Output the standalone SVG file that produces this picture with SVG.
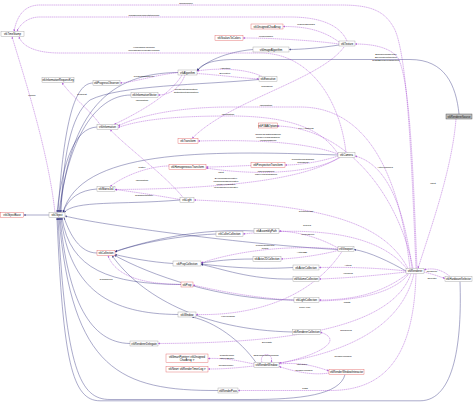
<svg xmlns="http://www.w3.org/2000/svg" width="474" height="402" viewBox="0 0 474 402">
<style>
.nd rect{fill:#fff;stroke:#9a9a9a;stroke-width:0.4}
.rd rect{fill:#fff;stroke:#e05a5a;stroke-width:0.4}
.gd rect{fill:#bfbfbf;stroke:#404040;stroke-width:0.4}
text{font-family:"Liberation Sans",Arial,sans-serif;font-size:2.7px;text-anchor:middle;fill:#000}
.u{fill:none;stroke:#9a32cd;stroke-width:0.5;stroke-dasharray:1.4 0.5;opacity:0.75}
.i{fill:none;stroke:#191970;stroke-width:0.5;opacity:0.72}
.l{font-size:2.5px}
</style>
<defs>
<marker id="au" viewBox="0 0 4 4" refX="4" refY="2" markerWidth="2.2" markerHeight="2.2" markerUnits="userSpaceOnUse" orient="auto"><path d="M0,0 L4,2 L0,4 z" fill="#9a32cd"/></marker>
<marker id="ai" viewBox="0 0 4 4" refX="4" refY="2" markerWidth="2.2" markerHeight="2.2" markerUnits="userSpaceOnUse" orient="auto"><path d="M0,0 L4,2 L0,4 z" fill="#191970"/></marker>
</defs>
<rect width="474" height="402" fill="#fff"/>
<g id="connectors">
<path class="i" marker-end="url(#ai)" d="M49,215 L23.5,215"/>
<path class="i" marker-end="url(#ai)" d="M93,83 C75,83 64,120 58,212.5"/>
<path class="i" marker-end="url(#ai)" d="M178,72.5 C110,73 70,110 60,212.5"/>
<path class="i" marker-end="url(#ai)" d="M131,95 C95,95 68,140 59,212.5"/>
<path class="i" marker-end="url(#ai)" d="M97,127 C75,128 63,160 57,212.5"/>
<path class="i" marker-end="url(#ai)" d="M259,79.5 C200,85 120,85 90,100 C70,115 63,160 61,212.5"/>
<path class="i" marker-end="url(#ai)" d="M338,155 C200,150 80,150 63,212.5"/>
<path class="i" marker-end="url(#ai)" d="M180,200 C120,205 75,200 64,212.5"/>
<path class="i" marker-end="url(#ai)" d="M97,189 C80,190 68,198 63,212.5"/>
<path class="i" marker-end="url(#ai)" d="M97,253 C80,253 70,235 64,217.5"/>
<path class="i" marker-end="url(#ai)" d="M181,284.5 C110,284 70,270 62,217.5"/>
<path class="i" marker-end="url(#ai)" d="M178,314.5 C110,314 70,290 61,217.5"/>
<path class="i" marker-end="url(#ai)" d="M338,249.5 C250,245 100,225 65,216"/>
<path class="i" marker-end="url(#ai)" d="M130,343.5 C90,343 68,300 60,217.5"/>
<path class="i" marker-end="url(#ai)" d="M218,390.5 C120,391 72,370 59,217.5"/>
<path class="i" marker-end="url(#ai)" d="M345,374.5 C340,395 300,399.5 250,399.5 L110,399.5 C80,399.5 66,370 58,217.5"/>
<path class="i" marker-end="url(#ai)" d="M460,281.5 C462,340 455,400.8 420,400.8 L100,400.8 C72,400.8 63,360 57,217.5"/>
<path class="i" marker-end="url(#ai)" d="M339,45 C320,48 300,49.5 289,49.5"/>
<path class="i" marker-end="url(#ai)" d="M253,49.5 C225,52 205,62 197,71"/>
<path class="i" marker-end="url(#ai)" d="M459,114 C456,85 445,59.5 410,59.5 L235,59.5 C212,59.5 202,64 197,70.5"/>
<path class="i" marker-end="url(#ai)" d="M406,271 C390,262 370,252 354,249.5"/>
<path class="i" marker-end="url(#ai)" d="M293,267.5 C250,270 220,266 201,264"/>
<path class="i" marker-end="url(#ai)" d="M293,279 C250,280 220,268 201,264.5"/>
<path class="i" marker-end="url(#ai)" d="M253,259 C230,259 215,261 201,263"/>
<path class="i" marker-end="url(#ai)" d="M173,263.5 C150,262 130,258 115,254.5"/>
<path class="i" marker-end="url(#ai)" d="M216,234 C170,236 130,246 115,252"/>
<path class="i" marker-end="url(#ai)" d="M254,231 C200,228 150,240 115,251.5"/>
<path class="i" marker-end="url(#ai)" d="M294,300 C220,300 150,275 114,255"/>
<path class="i" marker-end="url(#ai)" d="M292.5,332 C200,330 140,295 112,255.5"/>
<path class="i" marker-end="url(#ai)" d="M256,362.5 C240,340 215,322 192,317"/>
<path class="u" marker-end="url(#au)" d="M416,268.5 C412,170 408,60 395,30 C385,10 370,5 340,5 L40,5 C25,5 17,15 14,31.5"/>
<text class="l" x="186" y="3.6">RenderTime</text>
<path class="u" marker-end="url(#au)" d="M347,41 C340,25 320,17 290,17 L40,17 C28,17 20,24 17,31.5"/>
<text class="l" x="144" y="15.6">TransformComputationTime</text>
<path class="u" marker-end="url(#au)" d="M346,152.5 C340,100 310,53 260,53 L60,53 C35,53 22,46 19,36.5"/>
<text class="l" x="144" y="48.2">ViewingRaysMTime</text>
<text class="l" x="144" y="51.3">WorldToScreenMatrixMTime</text>
<path class="u" marker-end="url(#au)" d="M55,212.5 C48,150 25,80 12,36.5"/>
<text class="l" x="32" y="96">MTime</text>
<path class="u" marker-end="url(#au)" d="M417,268.5 C413,170 410,80 398,58 C390,47 372,44 355,44"/>
<text class="l" x="386" y="54.5">BackgroundTexture</text>
<text class="l" x="386" y="57.6">EnvironmentTexture</text>
<text class="l" x="386" y="60.7">RightBackgroundTexture</text>
<path class="u" marker-end="url(#au)" d="M339,42 C320,28 300,26.5 283,26.5"/>
<text class="l" x="306" y="25">MappedScalars</text>
<path class="u" marker-end="url(#au)" d="M339,44 C310,40 270,38 243,38"/>
<text class="l" x="266" y="37">LookupTable</text>
<path class="u" marker-end="url(#au)" d="M344,47 C320,80 230,100 192,138.5"/>
<text class="l" x="267" y="86.5">Transform</text>
<path class="u" marker-end="url(#au)" d="M178,72.5 C155,75 135,82 120,83"/>
<text class="l" x="144" y="77">ProgressObserver</text>
<path class="u" marker-end="url(#au)" d="M185,75 C180,88 170,95 158,95"/>
<text class="l" x="186" y="89.5">InputPortInformation</text>
<text class="l" x="186" y="92.6">OutputPortInformation</text>
<path class="u" marker-end="url(#au)" d="M182,75 C170,95 140,112 114,124.5"/>
<text class="l" x="142" y="100.5">Information</text>
<path class="u" marker-end="url(#au)" d="M262,76.5 C245,68 215,68 197,71"/>
<text class="l" x="225" y="68.5">Algorithm</text>
<path class="u" marker-end="url(#au)" d="M197,73.5 C220,75 240,78 259,79"/>
<text class="l" x="225" y="73.5">Executive</text>
<path class="u" marker-end="url(#au)" d="M100,124.5 C90,110 70,95 62,82.5"/>
<text class="l" x="82" y="95">Request</text>
<path class="u" marker-end="url(#au)" d="M338,154 C320,125 280,116 230,116 C170,116 140,120 118,127.5"/>
<text class="l" x="228" y="115">Information</text>
<path class="u" marker-end="url(#au)" d="M410,268.5 C400,180 370,107 300,107 L230,107 C180,107 140,115 118,126"/>
<text class="l" x="266" y="106">Information</text>
<path class="u" marker-end="url(#au)" d="M413,268.5 C400,200 350,128 277,126"/>
<text class="l" x="306" y="128.5">FXAAOptions</text>
<path class="u" marker-end="url(#au)" d="M338,154 C300,140 240,140 198,141"/>
<text class="l" x="268" y="135">CameraLightTransform</text>
<text class="l" x="268" y="138.2">ModelViewTransform</text>
<text class="l" x="268" y="141.4">ViewTransform</text>
<path class="u" marker-end="url(#au)" d="M338,156 C320,162 300,165 285,165"/>
<text class="l" x="303" y="159.5">ProjectionTransform</text>
<text class="l" x="303" y="162.6">Transform</text>
<path class="u" marker-end="url(#au)" d="M340,157.5 C310,175 250,175 206,168"/>
<text class="l" x="266" y="171.5">UserTransform</text>
<text class="l" x="266" y="174.6">UserViewTransform</text>
<path class="u" marker-end="url(#au)" d="M339,157.5 C300,183 200,189 115,189.5"/>
<text class="l" x="226" y="179">EyeTransformMatrix</text>
<text class="l" x="226" y="182.1">ModelTransformMatrix</text>
<text class="l" x="226" y="185.2">ModelViewMatrix</text>
<text class="l" x="226" y="188.3">WorldToScreenMatrix</text>
<path class="u" marker-end="url(#au)" d="M251,165.5 C235,166 220,167 206,167"/>
<text class="l" x="221" y="173">Input</text>
<path class="u" marker-end="url(#au)" d="M169,166 C150,166 125,175 110,186.5"/>
<text class="l" x="142" y="167.5">Matrix</text>
<path class="u" marker-end="url(#au)" d="M180,199.5 C160,196 135,192 115,189.5"/>
<text class="l" x="144" y="195.5">TransformMatrix</text>
<path class="u" marker-end="url(#au)" d="M183,197.5 C165,175 130,150 110,129.5"/>
<text class="l" x="142" y="180.5">Information</text>
<path class="u" marker-end="url(#au)" d="M408,268.5 C385,225 330,205 194,200"/>
<text class="l" x="306" y="211.5">CreatedLight</text>
<path class="u" marker-end="url(#au)" d="M407,269 C380,235 320,226 243,234"/>
<text class="l" x="307" y="225.5">Cullers</text>
<path class="u" marker-end="url(#au)" d="M338,248 C320,238 300,232 279,231"/>
<text class="l" x="308" y="234.5">PickedProp</text>
<path class="u" marker-end="url(#au)" d="M338,249 C290,245 240,250 201,263"/>
<text class="l" x="265" y="245.5">PickResultProps</text>
<text class="l" x="265" y="248.6">Props</text>
<path class="u" marker-end="url(#au)" d="M338,250.5 C320,255 300,258 281,259"/>
<text class="l" x="302" y="252.5">Actors2D</text>
<path class="u" marker-end="url(#au)" d="M406,271 C380,268 350,267 319,267.5"/>
<text class="l" x="348" y="266">Actors</text>
<path class="u" marker-end="url(#au)" d="M406,272 C380,275 350,278 319,279"/>
<text class="l" x="348" y="273.5">Volumes</text>
<path class="u" marker-end="url(#au)" d="M408,273.5 C380,295 350,300 319,300"/>
<text class="l" x="347" y="302.5">Lights</text>
<path class="u" marker-end="url(#au)" d="M409,273.5 C385,305 300,310 193,285"/>
<text class="l" x="305" y="307.5">PropArray</text>
<path class="u" marker-end="url(#au)" d="M181,284.5 C140,284 115,275 108,255.5"/>
<text class="l" x="106" y="279.5">Consumers</text>
<path class="u" marker-end="url(#au)" d="M342,251.5 C310,300 250,316 196,314.5"/>
<text class="l" x="228" y="316.5">VTKWindow</text>
<path class="u" marker-end="url(#au)" d="M411,273.5 C390,335 260,343 158,343.5"/>
<text class="l" x="267" y="343">Delegate</text>
<path class="u" marker-end="url(#au)" d="M414,273.5 C400,335 330,355 279,363"/>
<text class="l" x="343" y="357">RenderWindow</text>
<path class="u" marker-end="url(#au)" d="M279,364 C300,362 315,366 329,371"/>
<text class="l" x="302" y="365">Interactor</text>
<path class="u" marker-end="url(#au)" d="M329,373 C310,376 290,370 279,366.5"/>
<text class="l" x="304" y="370.5">RenderWindow</text>
<path class="u" marker-end="url(#au)" d="M262,362.5 C258,352 275,352 271,362.5"/>
<text class="l" x="266" y="356">SharedRenderWindow</text>
<path class="u" marker-end="url(#au)" d="M254,364 C235,360 225,358 208,358.5"/>
<text class="l" x="227" y="355.5">ResultFrame</text>
<text class="l" x="227" y="358.6">StereoBuffer</text>
<path class="u" marker-end="url(#au)" d="M254,366 C235,368 225,369 208,369"/>
<text class="l" x="226" y="365.5">RenderTimer</text>
<path class="u" marker-end="url(#au)" d="M279,363.5 C320,355 345,340 320,332"/>
<text class="l" x="346" y="330.5">Renderers</text>
<path class="u" marker-end="url(#au)" d="M416,273.5 C414,350 390,390.5 330,390.5 L238,390.5"/>
<text class="l" x="305" y="388.6">Pass</text>
<path class="u" marker-end="url(#au)" d="M424,272 C432,274 438,276 445,278.5"/>
<text class="l" x="432" y="278.5">Selector</text>
<path class="u" marker-end="url(#au)" d="M450,276.5 C440,268 430,268 424,270"/>
<text class="l" x="432" y="271.5">Renderer</text>
<path class="u" marker-end="url(#au)" d="M456,119 C452,170 430,230 418,268.5"/>
<text class="l" x="433" y="183.5">Input</text>
<path class="u" marker-end="url(#au)" d="M412,268.5 C405,215 390,165 355,156"/>
<text class="l" x="385" y="167.5">ActiveCamera</text>
</g>
<g id="vtkTimeStamp" class="nd"><rect x="1" y="31.5" width="23" height="5"/><text x="12.5" y="35.1">vtkTimeStamp</text></g>
<g id="vtkObjectBase" class="rd"><rect x="0.5" y="212.5" width="23" height="5"/><text x="12" y="216.1">vtkObjectBase</text></g>
<g id="vtkObject" class="nd"><rect x="49" y="212.5" width="16" height="5"/><text x="57" y="216.1">vtkObject</text></g>
<g id="vtkInformationRequestKey" class="nd"><rect x="42" y="77.5" width="32" height="5"/><text x="58" y="81.1">vtkInformationRequestKey</text></g>
<g id="vtkProgressObserver" class="nd"><rect x="93" y="80.5" width="27" height="5"/><text x="106.5" y="84.1">vtkProgressObserver</text></g>
<g id="vtkInformationVector" class="nd"><rect x="131" y="92.5" width="27" height="5"/><text x="144.5" y="96.1">vtkInformationVector</text></g>
<g id="vtkInformation" class="nd"><rect x="97" y="124.5" width="21" height="5"/><text x="107.5" y="128.1">vtkInformation</text></g>
<g id="vtkAlgorithm" class="nd"><rect x="178" y="70" width="19" height="5"/><text x="187.5" y="73.6">vtkAlgorithm</text></g>
<g id="vtkScalarsToColors" class="rd"><rect x="215" y="35.5" width="28" height="5"/><text x="229" y="39.1">vtkScalarsToColors</text></g>
<g id="vtkUnsignedCharArray" class="rd"><rect x="251" y="24" width="32" height="5"/><text x="267" y="27.6">vtkUnsignedCharArray</text></g>
<g id="vtkImageAlgorithm" class="nd"><rect x="253" y="47" width="36" height="5"/><text x="271" y="50.6">vtkImageAlgorithm</text></g>
<g id="vtkTexture" class="nd"><rect x="339" y="41" width="16" height="5"/><text x="347" y="44.6">vtkTexture</text></g>
<g id="vtkRendererSource" class="gd"><rect x="446" y="114" width="26" height="5"/><text x="459" y="117.6">vtkRendererSource</text></g>
<g id="vtkExecutive" class="nd"><rect x="259" y="76.5" width="18" height="5"/><text x="268" y="80.1">vtkExecutive</text></g>
<g id="vtkFXAAOptions" class="rd"><rect x="258.5" y="123" width="19" height="5"/><text x="268" y="126.6">vtkFXAAOptions</text></g>
<g id="vtkTransform" class="rd"><rect x="178" y="138.5" width="20" height="5"/><text x="188" y="142.1">vtkTransform</text></g>
<g id="vtkCamera" class="nd"><rect x="338" y="152.5" width="17" height="5"/><text x="346.5" y="156.1">vtkCamera</text></g>
<g id="vtkHomogeneousTransform" class="rd"><rect x="169" y="164.5" width="37" height="5"/><text x="187.5" y="168.1">vtkHomogeneousTransform</text></g>
<g id="vtkPerspectiveTransform" class="rd"><rect x="251" y="162.5" width="34" height="5"/><text x="268" y="166.1">vtkPerspectiveTransform</text></g>
<g id="vtkMatrix4x4" class="nd"><rect x="97" y="186.5" width="18" height="5"/><text x="106" y="190.1">vtkMatrix4x4</text></g>
<g id="vtkLight" class="nd"><rect x="180" y="197.5" width="14" height="5"/><text x="187" y="201.1">vtkLight</text></g>
<g id="vtkCullerCollection" class="nd"><rect x="216" y="231.5" width="27" height="5"/><text x="229.5" y="235.1">vtkCullerCollection</text></g>
<g id="vtkAssemblyPath" class="nd"><rect x="254" y="228.5" width="25" height="5"/><text x="266.5" y="232.1">vtkAssemblyPath</text></g>
<g id="vtkViewport" class="nd"><rect x="338" y="246.5" width="16" height="5"/><text x="346" y="250.1">vtkViewport</text></g>
<g id="vtkCollection" class="rd"><rect x="97" y="250.5" width="18" height="5"/><text x="106" y="254.1">vtkCollection</text></g>
<g id="vtkActor2DCollection" class="nd"><rect x="253" y="256.5" width="28" height="5"/><text x="267" y="260.1">vtkActor2DCollection</text></g>
<g id="vtkPropCollection" class="nd"><rect x="173" y="261" width="28" height="5"/><text x="187" y="264.6">vtkPropCollection</text></g>
<g id="vtkActorCollection" class="nd"><rect x="293" y="265" width="26" height="5"/><text x="306" y="268.6">vtkActorCollection</text></g>
<g id="vtkVolumeCollection" class="nd"><rect x="293" y="276.5" width="26" height="5"/><text x="306" y="280.1">vtkVolumeCollection</text></g>
<g id="vtkLightCollection" class="nd"><rect x="294" y="297.5" width="25" height="5"/><text x="306.5" y="301.1">vtkLightCollection</text></g>
<g id="vtkRendererCollection" class="nd"><rect x="292.5" y="329.5" width="28" height="5"/><text x="306.5" y="333.1">vtkRendererCollection</text></g>
<g id="vtkRenderer" class="nd"><rect x="406" y="268.5" width="18" height="5"/><text x="415" y="272.1">vtkRenderer</text></g>
<g id="vtkHardwareSelector" class="nd"><rect x="445" y="276.5" width="27" height="5"/><text x="458.5" y="280.1">vtkHardwareSelector</text></g>
<g id="vtkProp" class="rd"><rect x="181" y="282" width="12" height="5"/><text x="187" y="285.6">vtkProp</text></g>
<g id="vtkWindow" class="nd"><rect x="178" y="312" width="18" height="5"/><text x="187" y="315.6">vtkWindow</text></g>
<g id="vtkRendererDelegate" class="nd"><rect x="130" y="341" width="28" height="5"/><text x="144" y="344.6">vtkRendererDelegate</text></g>
<g id="vtkRenderWindow" class="nd"><rect x="254" y="362.5" width="25" height="5"/><text x="266.5" y="366.1">vtkRenderWindow</text></g>
<g id="vtkRenderWindowInteractor" class="rd"><rect x="329" y="369.5" width="35" height="5"/><text x="346.5" y="373.1">vtkRenderWindowInteractor</text></g>
<g id="vtkSmartPointer_vtkUnsignedCharArray" class="rd"><rect x="166" y="354" width="42" height="8.5"/><text x="187" y="357.7">vtkSmartPointer&lt; vtkUnsigned</text><text x="187" y="360.9">CharArray &gt;</text></g>
<g id="vtkNew_vtkRenderTimerLog" class="rd"><rect x="166" y="366.5" width="42" height="5.5"/><text x="187" y="370.3">vtkNew&lt; vtkRenderTimerLog &gt;</text></g>
<g id="vtkRenderPass" class="nd"><rect x="218" y="388" width="20" height="5"/><text x="228" y="391.6">vtkRenderPass</text></g>
</svg>
